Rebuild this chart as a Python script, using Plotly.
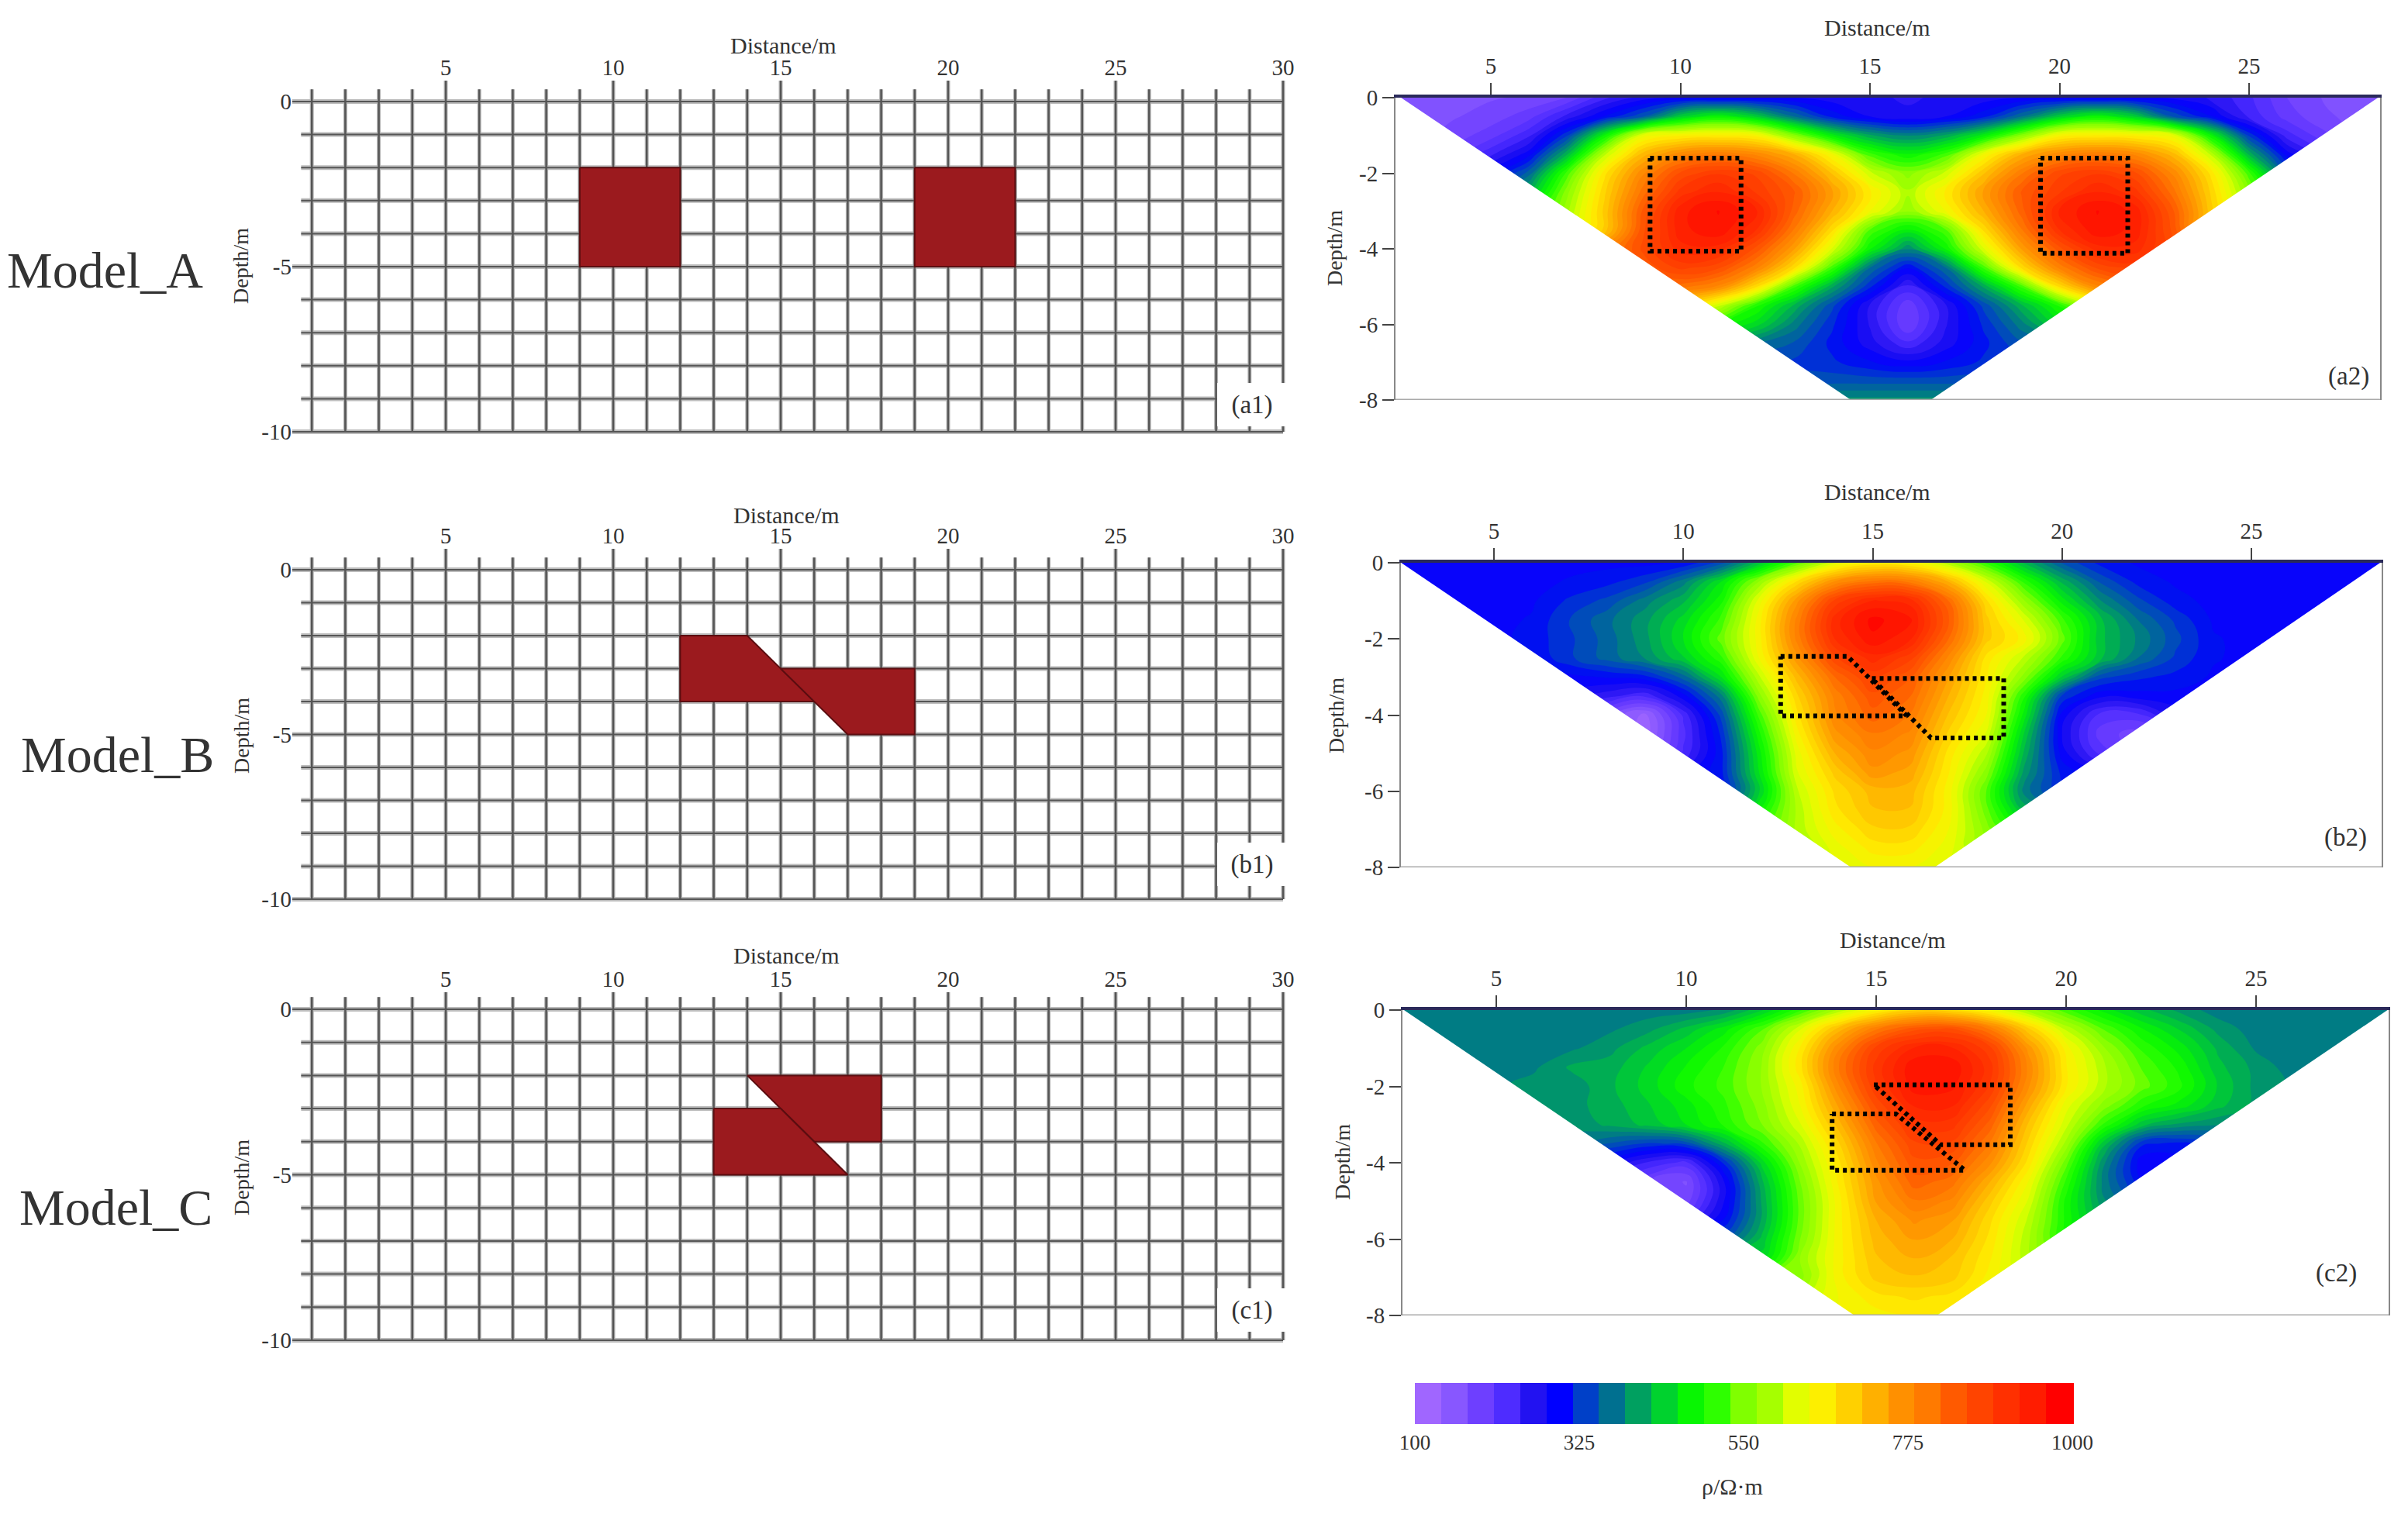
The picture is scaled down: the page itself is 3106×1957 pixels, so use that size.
import plotly.graph_objects as go

W, H = 3106, 1957
FONT = "Liberation Serif"
INK = "#333333"

# ---------- data ----------
grid_x = list(range(1, 31))
grid_depth = [0, -1, -2, -3, -4, -5, -6, -7, -8, -9, -10]
model_ticks_x = [5, 10, 15, 20, 25, 30]
model_ticks_y = [0, -5, -10]
section_ticks_x = [5, 10, 15, 20, 25]
section_ticks_y = [0, -2, -4, -6, -8]

a_block1_x = [9, 12, 12, 9, 9]
a_block1_y = [-2, -2, -5, -5, -2]
a_block2_x = [19, 22, 22, 19, 19]
a_block2_y = [-2, -2, -5, -5, -2]
b_block1_x = [12, 14, 16, 12, 12]
b_block1_y = [-2, -2, -4, -4, -2]
b_block2_x = [15, 19, 19, 17, 15]
b_block2_y = [-3, -3, -5, -5, -3]
c_block1_x = [14, 18, 18, 16, 14]
c_block1_y = [-2, -2, -4, -4, -2]
c_block2_x = [13, 15, 17, 13, 13]
c_block2_y = [-3, -3, -5, -5, -3]

a_out1_x = [9.2, 11.6, 11.6, 9.2, 9.2]
a_out1_y = [-1.6, -1.6, -4.06, -4.06, -1.6]
a_out2_x = [19.5, 21.8, 21.8, 19.5, 19.5]
a_out2_y = [-1.6, -1.6, -4.12, -4.12, -1.6]
b_out1_x = [12.57, 14.34, 15.9, 12.57, 12.57]
b_out1_y = [-2.46, -2.46, -4.02, -4.02, -2.46]
b_out2_x = [14.98, 18.46, 18.46, 16.54, 14.98]
b_out2_y = [-3.04, -3.04, -4.6, -4.6, -3.04]
c_out1_x = [14.94, 18.53, 18.53, 16.7, 14.94]
c_out1_y = [-1.96, -1.96, -3.53, -3.53, -1.96]
c_out2_x = [13.84, 15.52, 17.34, 13.84, 13.84]
c_out2_y = [-2.72, -2.72, -4.2, -4.2, -2.72]

section_x = [2, 3, 4, 5, 6, 7, 8, 9, 10, 11, 12, 13, 14, 15, 16, 17, 18, 19, 20, 21, 22, 23, 24, 25, 26, 27, 28, 29]
section_depth = [0, -0.5, -1, -1.5, -2, -2.5, -3, -3.5, -4, -4.5, -5, -5.5, -6, -6.5, -7, -7.5, -8]

rho_a = [
    [160,160,165,170,175,190,240,270,285,285,285,280,270,265,260,265,270,280,285,285,285,275,260,230,190,170,165,160],
    [160,160,170,180,200,250,300,350,440,480,440,370,310,280,265,280,310,370,440,480,440,350,300,240,200,175,165,160],
    [160,165,180,200,240,330,480,630,655,660,650,560,470,410,385,410,470,560,650,660,655,630,480,330,235,195,170,160],
    [170,180,200,240,290,420,600,720,780,800,780,730,640,520,480,520,640,730,780,800,780,720,600,420,290,230,190,170],
    [190,200,230,290,360,520,670,780,860,890,870,800,710,610,560,610,710,800,870,890,860,780,670,520,350,270,210,180],
    [220,240,290,350,420,560,690,810,900,930,890,840,750,660,590,660,750,840,890,930,900,810,690,560,420,340,280,220],
    [260,290,340,400,480,580,700,840,940,965,930,830,730,640,570,640,730,830,930,965,940,840,700,580,470,400,330,260],
    [300,340,400,470,540,600,700,850,940,960,910,800,680,530,470,530,680,800,910,960,940,850,700,600,540,470,400,300],
    [350,400,460,530,600,660,780,860,920,920,850,750,620,480,390,480,620,750,850,920,920,860,780,660,600,530,460,350],
    [400,450,520,590,660,740,810,840,880,860,790,680,520,370,300,370,520,680,790,860,880,840,810,740,660,590,520,400],
    [450,500,570,640,700,760,790,820,810,780,680,520,410,320,240,320,410,520,680,780,810,820,790,760,700,640,570,450],
    [450,500,560,620,670,710,730,720,680,610,500,420,340,260,195,260,340,420,500,610,680,720,730,710,670,620,560,450],
    [420,460,500,540,570,590,590,570,520,490,450,380,320,260,190,260,320,380,450,490,520,570,590,590,570,540,500,420],
    [380,400,420,440,450,460,450,430,400,380,370,350,310,270,230,270,310,350,370,380,400,430,450,460,450,440,420,380],
    [350,360,370,380,380,380,370,360,350,340,330,330,320,300,285,300,320,330,330,340,350,360,370,380,380,380,370,350],
    [340,340,340,340,340,340,340,340,340,340,340,340,345,345,345,345,345,340,340,340,340,340,340,340,340,340,340,340],
    [395,395,395,395,395,395,395,395,395,395,395,395,395,395,395,395,395,395,395,395,395,395,395,395,395,395,395,395],
]

rho_b = [
    [292,292,292,292,292,292,292,292,300,340,430,530,620,660,650,590,510,420,350,310,295,292,292,292,292,292,292,292],
    [292,292,292,292,292,300,310,330,380,460,570,680,770,810,800,730,620,510,420,350,310,295,292,292,292,292,292,292],
    [292,292,292,292,295,320,340,380,420,490,630,760,880,930,920,820,680,570,470,390,340,305,292,292,292,292,292,292],
    [292,292,292,292,300,335,365,400,450,520,650,790,920,970,950,840,700,620,520,430,370,330,295,292,292,292,292,292],
    [292,292,292,292,305,330,360,400,460,540,650,790,910,960,930,820,700,650,540,430,385,340,300,292,292,292,292,292],
    [292,292,292,292,300,330,360,390,440,510,640,760,870,920,880,780,670,600,510,430,370,330,300,292,292,292,292,292],
    [292,292,292,292,292,292,300,310,360,460,600,720,820,880,840,750,660,560,440,340,320,310,295,292,292,292,292,292],
    [250,250,250,260,265,270,250,230,290,380,560,690,790,850,820,730,650,500,330,285,290,292,292,292,292,292,292,292],
    [180,180,180,190,200,220,170,130,230,340,520,670,780,830,800,710,640,470,290,220,220,270,292,292,292,292,292,292],
    [150,150,150,150,150,160,170,125,220,320,490,650,760,800,780,690,620,440,280,200,180,220,260,292,292,292,292,292],
    [150,150,150,150,150,150,150,150,230,310,470,630,730,780,760,670,590,420,290,220,190,200,230,250,260,292,292,292],
    [200,200,200,200,200,200,210,230,270,310,460,620,700,760,740,660,560,400,310,280,260,260,260,260,260,260,260,260],
    [280,280,280,280,280,280,280,280,280,300,440,600,680,720,720,650,530,380,320,300,300,300,300,300,300,300,300,300],
    [360,360,360,360,360,360,360,360,360,370,480,590,670,710,710,650,540,420,380,380,380,380,380,380,380,380,380,380],
    [500,500,500,500,500,500,500,500,500,500,520,590,650,690,690,640,560,480,480,480,480,480,480,480,480,480,480,480],
    [560,560,560,560,560,560,560,560,560,560,560,580,630,665,665,630,570,560,560,560,560,560,560,560,560,560,560,560],
    [600,600,600,600,600,600,600,600,600,600,600,610,620,640,640,620,610,600,600,600,600,600,600,600,600,600,600,600],
]

rho_c = [
    [378,378,378,378,378,378,378,378,378,392,440,510,590,650,690,680,640,580,520,470,430,400,378,378,378,378,378,378],
    [378,378,378,378,378,378,385,400,430,470,530,620,720,800,850,860,800,700,600,530,480,440,400,378,378,378,378,378],
    [378,378,378,378,378,385,400,430,460,500,560,660,780,880,930,930,880,760,650,570,510,470,420,385,378,378,378,378],
    [378,378,378,378,385,410,415,445,480,515,570,670,800,900,960,960,900,780,660,590,530,490,430,400,378,378,378,378],
    [378,378,378,385,395,395,420,450,490,520,570,650,780,890,955,950,890,770,660,590,540,500,440,400,385,378,378,378],
    [378,378,378,380,395,400,415,440,470,510,560,640,750,860,930,930,860,740,630,560,500,470,430,400,380,378,378,378],
    [378,378,378,378,380,395,410,430,460,500,550,620,720,830,900,900,830,710,610,510,430,400,390,385,380,378,378,378],
    [340,345,350,355,360,370,350,330,340,420,510,590,690,800,870,870,800,690,580,430,320,310,330,350,360,378,378,378],
    [320,320,320,320,320,310,280,240,220,320,450,570,670,780,850,840,770,670,540,390,285,290,320,350,360,378,378,378],
    [300,300,300,290,280,250,220,190,170,280,420,550,660,760,830,810,730,640,510,380,300,320,340,350,360,378,378,378],
    [300,300,290,280,260,240,220,200,180,280,410,540,650,750,800,780,700,620,490,390,340,340,350,360,378,378,378,378],
    [300,300,300,290,280,260,250,240,230,300,410,540,650,730,770,750,680,600,490,410,380,380,380,380,380,380,380,380],
    [350,350,350,350,350,350,350,350,350,350,430,550,650,720,750,730,670,590,490,430,430,430,430,430,430,430,430,430],
    [450,450,450,450,450,450,450,450,450,450,450,570,650,710,730,710,660,590,520,480,480,480,480,480,480,480,480,480],
    [560,560,560,560,560,560,560,560,560,560,560,560,650,700,710,700,650,600,560,560,560,560,560,560,560,560,560,560],
    [600,600,600,600,600,600,600,600,600,600,600,600,640,670,680,670,640,600,600,600,600,600,600,600,600,600,600,600],
    [630,630,630,630,630,630,630,630,630,630,630,630,640,650,660,650,640,630,630,630,630,630,630,630,630,630,630,630],
]

cb_levels = [100, 120, 158, 195, 230, 264, 298, 334, 370, 406, 440, 480, 516, 550, 588, 620, 660, 694, 730, 766, 802, 838, 874, 910, 946, 982, 1000]
cb_colors = ["#a066ff", "#a066ff", "#8555ff", "#6a3cff", "#4a2aff", "#2010f0", "#0000ff", "#0040c8", "#007090",
             "#00a060", "#00d030", "#08f800", "#30ff00", "#80ff00", "#a8ff00", "#e0ff00", "#ffee00", "#ffd000",
             "#ffb000", "#ff9000", "#ff7a00", "#ff5a00", "#ff4400", "#ff3000", "#ff1c00", "#ff0000", "#ff0000"]
cb_ticks = [100, 325, 550, 775, 1000]

# triangle edges of the pseudosections (distance at depth 0 and at depth 8)
a_edge = [2.63, 14.5, 16.6, 28.4]
b_edge = [2.55, 14.43, 16.63, 28.4]
c_edge = [2.57, 14.43, 16.6, 28.46]

row_labels = ["Model_A", "Model_B", "Model_C"]

# ---------- layout helpers ----------
colorscale = [[(v - 100) / 900, c] for v, c in zip(cb_levels, cb_colors)]
fig = go.Figure()
axis_n = 0


def txt(x, y, text, size=28, angle=0, **kw):
    fig.add_annotation(x=x / W, y=1 - y / H, xref="paper", yref="paper", text=text, showarrow=False,
                       xanchor="center", yanchor="middle", borderwidth=0, borderpad=0,
                       font=dict(family=FONT, size=size, color=INK), textangle=angle, **kw)


def axes(px_l, px_r, px_t, px_b, xr, yr, xticks, yticks, **extra):
    global axis_n
    axis_n += 1
    s = "" if axis_n == 1 else str(axis_n)
    font = dict(family=FONT, size=29, color=INK)
    fig.update_layout(**{
        "xaxis" + s: dict(domain=[px_l / W, px_r / W], range=xr, side="top", anchor="y" + s, tickvals=xticks,
                          ticktext=[str(v) for v in xticks], tickfont=font, showgrid=False, zeroline=False,
                          **extra.get("x", {})),
        "yaxis" + s: dict(domain=[1 - px_b / H, 1 - px_t / H], range=yr, anchor="x" + s, tickvals=yticks,
                          ticktext=[str(v) for v in yticks], tickfont=font, showgrid=False, zeroline=False,
                          **extra.get("y", {})),
    })
    return "x" + s, "y" + s


def model_panel(y0, y10, blocks, label, label_y, title_xy, depth_xy, top_pad=27):
    x5, sx = 575.0, 43.2
    sy = (y10 - y0) / 10.0
    px_l, px_r = 377, 1658
    px_t, px_b = y0 - top_pad, y10 + 3
    xr = [5 + (px_l - x5) / sx, 5 + (px_r - x5) / sx]
    yr = [-(px_b - y0) / sy, (y0 - px_t) / sy]
    xa, ya = axes(px_l, px_r, px_t, px_b, xr, yr, model_ticks_x, model_ticks_y,
                  x=dict(showline=False, ticks=""), y=dict(showline=False, ticks=""))
    hx, hy = [], []
    for d in grid_depth:
        hx += [xr[0] if d in model_ticks_y else 0.68, 30, None]
        hy += [d, d, None]
    vx, vy = [], []
    for g in grid_x:
        vx += [g, g, None]
        vy += [yr[1] if g in model_ticks_x else 0.37, -10, None]
    for xs, ys, c, w in [(hx, hy, "#bcbcbc", 6), (vx, vy, "#b4b4b4", 5), (hx, hy, "#555555", 2), (vx, vy, "#555555", 2.5)]:
        fig.add_trace(go.Scatter(x=xs, y=ys, mode="lines", line=dict(color=c, width=w), xaxis=xa, yaxis=ya,
                                 hoverinfo="skip", showlegend=False))
    for bx, by in blocks:
        fig.add_trace(go.Scatter(x=bx, y=by, mode="lines", fill="toself", fillcolor="#9b1a1e",
                                 line=dict(color="#5c0d10", width=2), xaxis=xa, yaxis=ya,
                                 hoverinfo="skip", showlegend=False))
    txt(1615, label_y, label, size=33, bgcolor="#ffffff", width=90, height=56)
    txt(title_xy[0], title_xy[1], "Distance/m", size=30)
    txt(depth_xy[0], depth_xy[1], "Depth/m", size=28, angle=-90)


def section_panel(px_l, px_r, y0, y8, x5, x25, rho, edge, outlines, label, label_xy, title_xy, depth_xy, bar=False):
    sx = (x25 - x5) / 20.0
    xr = [5 + (px_l - x5) / sx, 5 + (px_r - x5) / sx]
    yr = [-8, 0]
    tick = dict(ticks="outside", ticklen=15, tickcolor="#444444", tickwidth=2)
    xa, ya = axes(px_l, px_r, y0, y8, xr, yr, section_ticks_x, section_ticks_y,
                  x=dict(showline=True, linecolor="#2a2a5a", linewidth=4, **tick),
                  y=dict(showline=True, linecolor="#888888", linewidth=2, mirror=True, **tick))
    if bar:
        cbar = dict(orientation="h", x=2249 / W, xanchor="center", y=1 - 1784 / H, yanchor="top", len=848,
                    lenmode="pixels", thickness=53, thicknessmode="pixels", xpad=0, ypad=0, outlinewidth=0,
                    ticks="", tickvals=cb_ticks, ticktext=[str(v) for v in cb_ticks],
                    tickfont=dict(family=FONT, size=27, color=INK))
        fig.add_trace(go.Contour(x=section_x, y=section_depth, z=rho, colorscale=colorscale, zmin=100, zmax=1000,
                                 autocontour=False, contours=dict(start=100, end=1000, size=36, coloring="fill", showlines=False),
                                 line=dict(width=0, smoothing=1.3), showscale=True, colorbar=cbar,
                                 xaxis=xa, yaxis=ya, hoverinfo="skip"))
        txt(2234, 1917, "ρ/Ω·m", size=30)
    fig.add_trace(go.Contour(x=section_x, y=section_depth, z=rho, colorscale=colorscale, zmin=100, zmax=1000,
                             autocontour=False, contours=dict(start=100, end=1000, size=18, coloring="fill", showlines=False),
                             line=dict(width=0, smoothing=1.3), showscale=False,
                             xaxis=xa, yaxis=ya, hoverinfo="skip"))
    for xs, ys in [([xr[0] - 1, edge[0], edge[1], xr[0] - 1, xr[0] - 1], [0, 0, -8, -8, 0]),
                   ([xr[1] + 1, edge[3], edge[2], xr[1] + 1, xr[1] + 1], [0, 0, -8, -8, 0]),
                   ]:
        fig.add_trace(go.Scatter(x=xs, y=ys, mode="lines", fill="toself", fillcolor="#ffffff",
                                 line=dict(color="#ffffff", width=0), xaxis=xa, yaxis=ya,
                                 hoverinfo="skip", showlegend=False))
    fig.add_trace(go.Scatter(x=xr, y=[-8, -8], mode="lines", line=dict(color="#aaaaaa", width=3), xaxis=xa, yaxis=ya,
                             hoverinfo="skip", showlegend=False))
    for ox, oy in outlines:
        fig.add_trace(go.Scatter(x=ox, y=oy, mode="lines", line=dict(color="#000000", width=6, dash="5px,5px"),
                                 xaxis=xa, yaxis=ya, hoverinfo="skip", showlegend=False))
    txt(label_xy[0], label_xy[1], label, size=33)
    txt(title_xy[0], title_xy[1], "Distance/m", size=30)
    txt(depth_xy[0], depth_xy[1], "Depth/m", size=28, angle=-90)


model_panel(131, 557, [(a_block1_x, a_block1_y), (a_block2_x, a_block2_y)], "(a1)", 522, (1010, 58), (311, 343))
model_panel(735, 1160, [(b_block1_x, b_block1_y), (b_block2_x, b_block2_y)], "(b1)", 1115, (1014, 664), (311, 949))
model_panel(1302, 1729, [(c_block1_x, c_block1_y), (c_block2_x, c_block2_y)], "(c1)", 1690, (1014, 1232), (311, 1519), top_pad=22)

section_panel(1800, 3070, 126, 516, 1923, 2901, rho_a, a_edge, [(a_out1_x, a_out1_y), (a_out2_x, a_out2_y)],
              "(a2)", (3029, 485), (2421, 36), (1722, 320))
section_panel(1807, 3072, 726, 1119, 1927, 2904, rho_b, b_edge, [(b_out1_x, b_out1_y), (b_out2_x, b_out2_y)],
              "(b2)", (3025, 1080), (2421, 634), (1723, 923))
section_panel(1809, 3081, 1303, 1697, 1930, 2910, rho_c, c_edge, [(c_out1_x, c_out1_y), (c_out2_x, c_out2_y)],
              "(c2)", (3013, 1642), (2441, 1212), (1731, 1499), bar=True)

txt(135, 349, row_labels[0], size=66)
txt(151, 973, row_labels[1], size=66)
txt(149, 1557, row_labels[2], size=66)

fig.update_layout(width=W, height=H, autosize=False, margin=dict(l=0, r=0, t=0, b=0, autoexpand=False),
                  paper_bgcolor="#ffffff", plot_bgcolor="#ffffff", showlegend=False)
fig.write_html("out.html", config={"displayModeBar": False}, post_script="document.body.style.margin='0';")
